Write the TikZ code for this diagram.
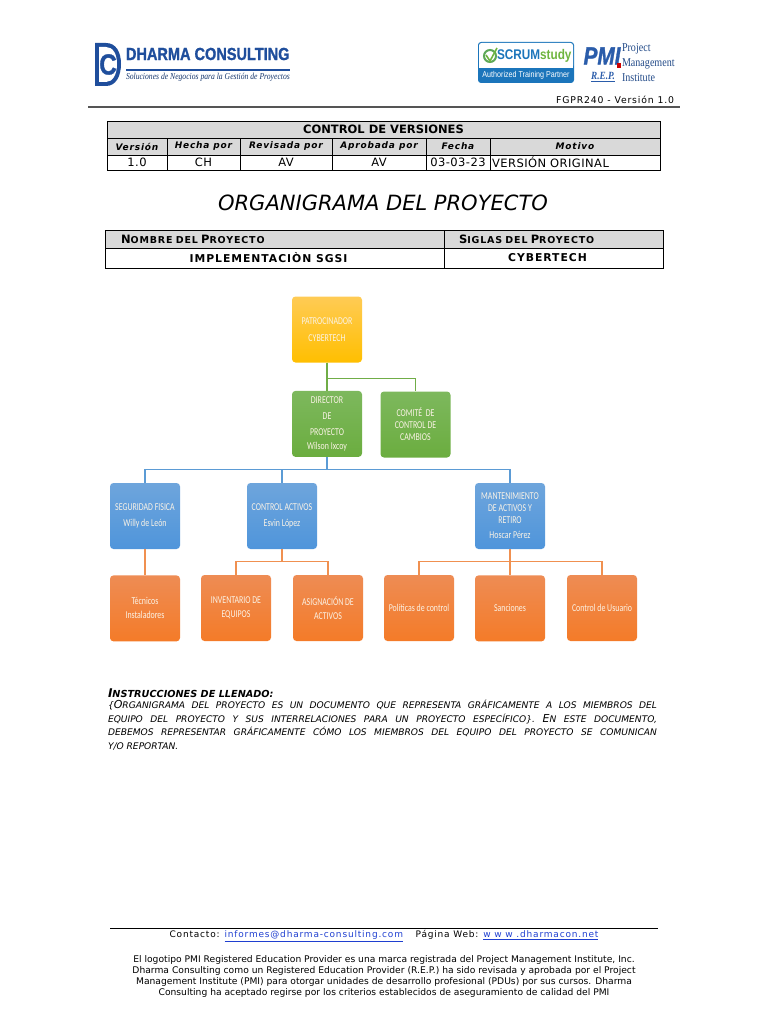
\documentclass[tikz,border=0pt]{standalone}
\usepackage{fontspec}
\setmainfont{DejaVu Sans}
\newfontfamily\orgfont[FakeStretch=0.75]{Carlito}
\newfontfamily\spacedfont[LetterSpace=9]{DejaVu Sans}
\newfontfamily\datafont[LetterSpace=4]{DejaVu Sans}
\newfontfamily\logofont[FakeStretch=0.84]{Liberation Sans}
\newfontfamily\heavyfont[FakeStretch=0.83,FakeBold=1.2]{Liberation Sans}
\newfontfamily\serifont[FakeStretch=0.84]{Liberation Serif}
\usetikzlibrary{positioning,arrows.meta}
\definecolor{dharmablue}{HTML}{1F4E9C}
\definecolor{scrumblue}{HTML}{1B75BB}
\definecolor{scrumgreen}{HTML}{6FB53F}
\definecolor{pmiblue}{HTML}{2A5CAA}
\definecolor{rulegray}{HTML}{555555}
\definecolor{headgray}{HTML}{D9D9D9}
\definecolor{linkblue}{HTML}{1F3FD0}
\definecolor{bluelink}{HTML}{5B9BD5}
\definecolor{greenlink}{HTML}{70AD47}
\definecolor{orangelink}{HTML}{ED7D31}
\definecolor{orgtext}{HTML}{FBF3E6}
\definecolor{goldtop}{HTML}{FFCB55}
\definecolor{goldbot}{HTML}{FFBF00}
\definecolor{greentop}{HTML}{7DB85D}
\definecolor{greenbot}{HTML}{6BAD3F}
\definecolor{bluetop}{HTML}{6EA5DC}
\definecolor{bluebot}{HTML}{4F95DB}
\definecolor{orangetop}{HTML}{EE8C54}
\definecolor{orangebot}{HTML}{F47B28}
\newcommand{\fs}[2]{\fontsize{#1}{#2}\selectfont}
\newcommand{\capl}[1]{{\fs{11.5}{13}#1}}

\begin{document}
\begin{tikzpicture}[
  x=1pt, y=-1pt,
  txt/.style={inner sep=0pt, outer sep=0pt},
  cell/.style={draw=black, line width=0.9pt, inner sep=0pt, outer sep=0pt, align=center},
  titlecell/.style={cell, fill=headgray, font=\fs{11.5}{12}\bfseries, minimum width=553pt, minimum height=17pt},
  headcell/.style={cell, fill=headgray, font=\spacedfont\fs{9}{10}\bfseries\itshape, minimum height=17pt},
  datacell/.style={cell, font=\datafont\fs{11.5}{12}, minimum height=15pt},
  namehead/.style={cell, fill=headgray, font=\spacedfont\fs{9.5}{11}\bfseries, minimum height=18pt},
  namedata/.style={cell, font=\spacedfont\fs{10.8}{12}\bfseries, minimum height=20pt},
  orgbox/.style={rounded corners=3.5pt, minimum width=70pt, minimum height=66pt, inner sep=1pt,
                 align=center, text=orgtext, font=\orgfont\fs{10.5}{12}},
  goldbox/.style={orgbox, top color=goldtop, bottom color=goldbot},
  greenbox/.style={orgbox, top color=greentop, bottom color=greenbot},
  bluebox/.style={orgbox, top color=bluetop, bottom color=bluebot},
  orangebox/.style={orgbox, top color=orangetop, bottom color=orangebot},
  greenline/.style={draw=greenlink, line width=1.1pt},
  blueline/.style={draw=bluelink, line width=1.1pt},
  orangeline/.style={draw=orangelink!85!white, line width=1.1pt},
  ]
  \useasboundingbox (0,0) rectangle (768,1024);

  % logos
  \fill[dharmablue] (95,43) -- (106,43) .. controls (116,43) and (121,52) .. (121,64)
    .. controls (121,76) and (116,86) .. (106,86) -- (95,86) -- cycle;
  \fill[white] (99,47) -- (106,47) .. controls (113,47) and (117,54) .. (117,64)
    .. controls (117,74) and (113,82) .. (106,82) -- (99,82) -- cycle;
  \node[txt, text=dharmablue, font=\heavyfont\fs{29}{29}\bfseries] (dcletter) at (108,64.5) {C};
  \node[txt, anchor=west, text=dharmablue, font=\heavyfont\fs{17.5}{18}\bfseries] (dharmaname) at (126,54) {DHARMA CONSULTING};
  \draw[dharmablue, line width=1.2pt] (126,70) -- (290,70);
  \node[txt, anchor=west, text=dharmablue!70!black, font=\serifont\fs{9.1}{10}\itshape] (dharmatag) at (126,77) {Soluciones de Negocios para la Gestión de Proyectos};

  \fill[scrumblue, rounded corners=3pt] (478,42) rectangle (574,83);
  \fill[white, rounded corners=2.5pt] (479,43) rectangle (573,68);
  \fill[white] (479,60) rectangle (573,68);
  \draw[scrumgreen!80!scrumblue, line width=2pt] (490,56) circle (6pt);
  \draw[scrumgreen, line width=1.6pt] (486,55) -- (490,61) -- (497,48);
  \node[txt, anchor=west, font=\logofont\fs{14}{14}\bfseries] (scrumname) at (497,56)
    {\textcolor{scrumblue}{SCRUM}\textcolor{scrumgreen}{study}};
  \node[txt, text=white, font=\logofont\fs{8.5}{9}] (scrumpartner) at (526,75.5) {Authorized Training Partner};

  \node[txt, text=pmiblue, font=\heavyfont\fs{25}{25}\bfseries\itshape] (pmimark) at (602,56) {PMI};
  \fill[red!80!black] (617,63) rectangle (621,68);
  \node[txt, text=pmiblue, font=\serifont\fs{11}{11}\bfseries\itshape] (pmirep) at (603,77) {\underline{R.E.P.}};
  \node[txt, anchor=north west, align=left, text=pmiblue!80!black, font=\serifont\fs{12}{15}] (pminame) at (622,44) {Project\\Management\\Institute};

  \node[txt, anchor=east, font=\spacedfont\fs{9.3}{10}] (formcode) at (674,100) {FGPR240 - Versión 1.0};
  \draw[rulegray, line width=1.3pt] (88,107) -- (680,107);

  % control de versiones
  \node[titlecell, anchor=north west] (vertitle) at (107,121) {CONTROL DE VERSIONES};
  \node[headcell, anchor=north west, minimum width=60pt] (hver) at (107,138) {Versión};
  \node[headcell, right=0pt of hver, minimum width=73pt] (hhecha) {Hecha por};
  \node[headcell, right=0pt of hhecha, minimum width=92pt] (hrev) {Revisada por};
  \node[headcell, right=0pt of hrev, minimum width=94pt] (hapr) {Aprobada por};
  \node[headcell, right=0pt of hapr, minimum width=64pt] (hfecha) {Fecha};
  \node[headcell, right=0pt of hfecha, minimum width=170pt] (hmot) {Motivo};
  \node[datacell, anchor=north west, minimum width=60pt] (dver) at (107,155) {1.0};
  \node[datacell, right=0pt of dver, minimum width=73pt] (dhecha) {CH};
  \node[datacell, right=0pt of dhecha, minimum width=92pt] (drev) {AV};
  \node[datacell, right=0pt of drev, minimum width=94pt] (dapr) {AV};
  \node[datacell, right=0pt of dapr, minimum width=64pt] (dfecha) {03-03-23};
  \node[datacell, right=0pt of dfecha, minimum width=170pt, text width=166pt, align=left] (dmot) {VERSIÓN ORIGINAL};

  \node[txt, font=\fs{21}{23}\itshape] (doctitle) at (383,203) {ORGANIGRAMA DEL PROYECTO};

  % nombre y siglas
  \node[namehead, anchor=north west, minimum width=339pt, text width=307pt, align=left] (nhead) at (105,230) {\capl{N}OMBRE DEL \capl{P}ROYECTO};
  \node[namehead, right=0pt of nhead, minimum width=219pt, text width=189pt, align=left] (shead) {\capl{S}IGLAS DEL \capl{P}ROYECTO};
  \node[namedata, anchor=north west, minimum width=339pt] (ndata) at (105,248) {IMPLEMENTACIÒN SGSI\hspace{12pt}};
  \node[namedata, right=0pt of ndata, minimum width=219pt] (sdata) {CYBERTECH\hspace{12pt}};

  % organigrama
  \node[goldbox] (patron) at (327,329.5) {PATROCINADOR\\[5pt]CYBERTECH};
  \node[greenbox, below=28pt of patron] (director) {DIRECTOR\\[4pt]DE\\[4pt]PROYECTO\\[2pt]Wilson Ixcoy};
  \node[greenbox] (comite) at (415.5,424.5) {COMITÉ\ \ DE\\CONTROL DE\\CAMBIOS};
  \node[bluebox] (seguridad) at (145,516) {SEGURIDAD FISICA\\[4pt]Willy de León};
  \node[bluebox] (activos) at (282,516) {CONTROL ACTIVOS\\[4pt]Esvin López};
  \node[bluebox] (manten) at (510,516) {MANTENIMIENTO\\DE ACTIVOS Y\\RETIRO\\[3pt]Hoscar Pérez};
  \node[orangebox, below=26pt of seguridad] (tecnicos) {Técnicos\\[2pt]Instaladores};
  \node[orangebox] (inventario) at (236,608) {INVENTARIO DE\\[2pt]EQUIPOS};
  \node[orangebox] (asigna) at (328,608) {ASIGNACIÓN DE\\[2pt]ACTIVOS};
  \node[orangebox] (politicas) at (419,608) {Políticas de control};
  \node[orangebox, below=26pt of manten] (sanciones) {Sanciones};
  \node[orangebox] (usuario) at (602,608) {Control de Usuario};

  \draw[greenline] (patron.south) -- (director.north);
  \draw[greenline] (patron.south) -- ++(0,16) -| (comite.north);
  \draw[blueline] (director.south) -- ++(0,12) -| (seguridad.north);
  \draw[blueline] (director.south) -- ++(0,12) -| (activos.north);
  \draw[blueline] (director.south) -- ++(0,12) -| (manten.north);
  \draw[orangeline] (seguridad) -- (tecnicos);
  \draw[orangeline] (activos.south) -- ++(0,12) -| (inventario.north);
  \draw[orangeline] (activos.south) -- ++(0,12) -| (asigna.north);
  \draw[orangeline] (manten.south) -- ++(0,12) -| (politicas.north);
  \draw[orangeline] (manten) -- (sanciones);
  \draw[orangeline] (manten.south) -- ++(0,12) -| (usuario.north);

  % instrucciones
  \node[txt, anchor=west, font=\fs{9.7}{10}\bfseries\itshape] (insthead) at (108,693) {{\fs{12}{13}I}NSTRUCCIONES DE LLENADO:};
  \node[txt, anchor=north west, text width=549pt, align=justify, font=\fs{9.1}{13.4}\itshape] (insttext) at (108,700.5)
    {\{{\fs{11}{13}O}RGANIGRAMA DEL PROYECTO ES UN DOCUMENTO QUE REPRESENTA GRÁFICAMENTE A LOS MIEMBROS DEL\linebreak
     EQUIPO DEL PROYECTO Y SUS INTERRELACIONES PARA UN PROYECTO ESPECÍFICO\}. {\fs{11}{13}E}N ESTE DOCUMENTO,\linebreak
     DEBEMOS REPRESENTAR GRÁFICAMENTE CÓMO LOS MIEMBROS DEL EQUIPO DEL PROYECTO SE COMUNICAN\linebreak
     Y/O REPORTAN.};

  % pie
  \draw[black, line width=0.9pt] (110,928) -- (658,928);
  \node[txt, font=\spacedfont\fs{9}{11}] (contacto) at (384,936)
    {Contacto: \textcolor{linkblue}{\underline{informes@dharma-consulting.com}}\quad\ Página Web: \textcolor{linkblue}{\underline{w w w .dharmacon.net}}};
  \node[txt, anchor=north, align=center, font=\fs{9.17}{11}] (legal) at (384,956)
    {El logotipo PMI Registered Education Provider es una marca registrada del Project Management Institute, Inc.\\
     Dharma Consulting como un Registered Education Provider (R.E.P.) ha sido revisada y aprobada por el Project\\
     Management Institute (PMI) para otorgar unidades de desarrollo profesional (PDUs) por sus cursos. Dharma\\
     Consulting ha aceptado regirse por los criterios establecidos de aseguramiento de calidad del PMI};
\end{tikzpicture}
\end{document}
